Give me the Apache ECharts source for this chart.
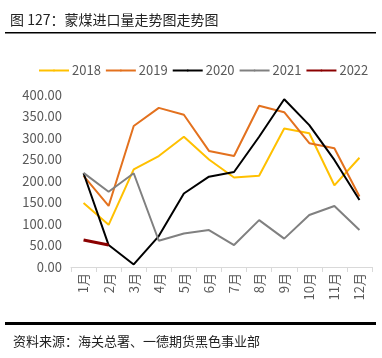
<!DOCTYPE html>
<html>
<head>
<meta charset="utf-8">
<script src="https://cdn.jsdelivr.net/npm/echarts@6/dist/echarts.min.js"></script>
<style>
  html, body { margin: 0; padding: 0; background: #fff; }
  #chart { width: 382px; height: 358px; }
</style>
</head>
<body>
<div id="chart"></div>
<script>
const months = ['1月', '2月', '3月', '4月', '5月', '6月', '7月', '8月', '9月', '10月', '11月', '12月']
const y2018 = [149, 98, 227, 258, 303, 250, 208, 212, 322, 311, 190, 254]
const y2019 = [212, 142, 328, 370, 354, 270, 258, 375, 360, 288, 276, 164]
const y2020 = [218, 51, 6, 72, 171, 210, 221, 303, 390, 330, 249, 156]
const y2021 = [219, 175, 218, 61, 78, 86, 51, 109, 66, 121, 142, 86]
const y2022 = [63, 51]

const font = '"Noto Sans CJK SC", "Microsoft YaHei", sans-serif'

function makeLine(name, data, color, width) {
  return {
    name,
    type: 'line',
    data,
    symbol: 'none',
    legendIcon: 'rect',
    lineStyle: { color, width },
    itemStyle: { color },
    animation: false
  }
}

const chart = echarts.init(document.getElementById('chart'))
chart.setOption({
  textStyle: { fontFamily: font },
  title: {
    text: '图 127：蒙煤进口量走势图走势图',
    left: 5,
    top: 8,
    textStyle: { fontSize: 14, fontWeight: 'normal', color: '#222', fontFamily: font }
  },
  graphic: [
    { type: 'rect', shape: { x: 5, y: 32, width: 371, height: 1.5 }, style: { fill: '#000' } },
    { type: 'rect', shape: { x: 5, y: 322, width: 371, height: 3 }, style: { fill: '#000' } },
    {
      type: 'text', left: 13, top: 335,
      style: { text: '资料来源：海关总署、一德期货黑色事业部', fontSize: 13, fill: '#222', fontFamily: font }
    }
  ],
  legend: {
    top: 59,
    left: 33,
    itemWidth: 30,
    itemHeight: 2.5,
    itemGap: 4,
    textStyle: { fontSize: 13, color: '#595959', padding: [0, 0, 0, -2] },
    data: ['2018', '2019', '2020', '2021', '2022']
  },
  grid: { left: 71, right: 10, top: 95, bottom: 91 },
  xAxis: {
    type: 'category',
    data: months,
    boundaryGap: true,
    axisLine: { lineStyle: { color: '#d9d9d9' } },
    axisTick: { show: true, length: 5, lineStyle: { color: '#d9d9d9' } },
    axisLabel: { rotate: 90, color: '#595959', fontSize: 13, margin: 6 }
  },
  yAxis: {
    type: 'value',
    min: 0,
    max: 400,
    interval: 50,
    splitLine: { show: false },
    axisLine: { show: false },
    axisTick: { show: false },
    axisLabel: { color: '#595959', fontSize: 13, margin: 9, formatter: v => v.toFixed(2) }
  },
  series: [
    makeLine('2018', y2018, '#FFC000', 2),
    makeLine('2019', y2019, '#E3711E', 2),
    makeLine('2020', y2020, '#000000', 2),
    makeLine('2021', y2021, '#808080', 2),
    makeLine('2022', y2022, '#8B0000', 3)
  ]
})
</script>
</body>
</html>
